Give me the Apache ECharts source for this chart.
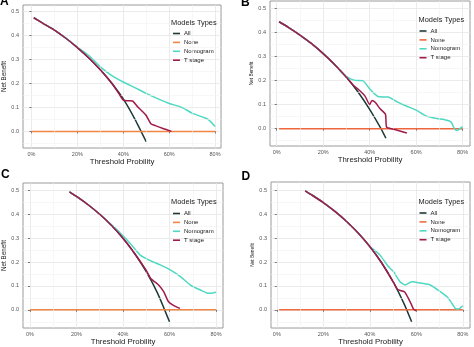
<!DOCTYPE html>
<html><head><meta charset="utf-8">
<script src="https://cdn.jsdelivr.net/npm/echarts@6/dist/echarts.min.js"></script>
<style>html,body{margin:0;padding:0;background:#fff}#c{width:474px;height:347px}</style>
</head><body><div id="c"></div>
<script>
// ---------- data ----------
const seriesNames = ['All', 'None', 'Nomogram', 'T stage'];
const panelLetters = ['A', 'B', 'C', 'D'];
const legendTitle = 'Models Types';
const xAxisName = 'Threshold Probility';
const yAxisName = 'Net Benefit';
const yTicks = [0.0, 0.1, 0.2, 0.3, 0.4, 0.5];
const xTicks = [0, 0.2, 0.4, 0.6, 0.8];

// Panel A
const A_all_x = [0.01, 0.05, 0.10, 0.15, 0.20, 0.25, 0.30, 0.35, 0.40, 0.45, 0.50];
const A_all_y = [0.472, 0.449, 0.421, 0.387, 0.348, 0.305, 0.256, 0.200, 0.135, 0.052, -0.043];
const A_none_x = [0.0, 0.8];
const A_none_y = [0, 0];
const A_nom_x = [0.01, 0.05, 0.10, 0.15, 0.20, 0.25, 0.30, 0.35, 0.40, 0.45, 0.50, 0.55, 0.60, 0.65, 0.70, 0.75, 0.77, 0.80];
const A_nom_y = [0.472, 0.449, 0.421, 0.387, 0.350, 0.315, 0.268, 0.232, 0.205, 0.182, 0.158, 0.136, 0.116, 0.102, 0.076, 0.058, 0.050, 0.020];
const A_ts_x = [0.01, 0.05, 0.10, 0.15, 0.20, 0.25, 0.30, 0.35, 0.38, 0.40, 0.42, 0.44, 0.46, 0.48, 0.50, 0.52, 0.54, 0.57, 0.61];
const A_ts_y = [0.472, 0.449, 0.421, 0.387, 0.348, 0.305, 0.256, 0.200, 0.158, 0.130, 0.127, 0.126, 0.105, 0.086, 0.066, 0.032, 0.024, 0.013, 0.0];

// Panel B
const B_all_x = [0.01, 0.05, 0.10, 0.15, 0.20, 0.25, 0.30, 0.35, 0.40, 0.45, 0.47];
const B_all_y = [0.443, 0.420, 0.388, 0.352, 0.311, 0.265, 0.213, 0.152, 0.080, -0.002, -0.040];
const B_none_x = [0.01, 0.8];
const B_none_y = [0, 0];
const B_nom_x = [0.01, 0.05, 0.10, 0.15, 0.20, 0.25, 0.28, 0.30, 0.32, 0.34, 0.37, 0.40, 0.42, 0.44, 0.48, 0.52, 0.56, 0.60, 0.645, 0.69, 0.72, 0.75, 0.765, 0.775, 0.80];
const B_nom_y = [0.443, 0.420, 0.388, 0.352, 0.311, 0.265, 0.232, 0.217, 0.205, 0.200, 0.199, 0.165, 0.145, 0.132, 0.131, 0.110, 0.093, 0.077, 0.052, 0.042, 0.038, 0.028, 0.000, -0.008, 0.008];
const B_ts_x = [0.01, 0.05, 0.10, 0.15, 0.20, 0.25, 0.30, 0.33, 0.36, 0.38, 0.40, 0.41, 0.425, 0.445, 0.468, 0.473, 0.50, 0.53, 0.56];
const B_ts_y = [0.443, 0.420, 0.388, 0.352, 0.311, 0.265, 0.213, 0.180, 0.155, 0.135, 0.100, 0.117, 0.108, 0.082, 0.060, 0.006, -0.002, -0.010, -0.018];

// Panel C
const C_all_x = [0.17, 0.20, 0.25, 0.30, 0.35, 0.40, 0.45, 0.50, 0.55, 0.60];
const C_all_y = [0.494, 0.475, 0.440, 0.400, 0.354, 0.300, 0.236, 0.160, 0.067, -0.050];
const C_none_x = [0.0, 0.8];
const C_none_y = [0, 0];
const C_nom_x = [0.17, 0.20, 0.25, 0.30, 0.345, 0.388, 0.431, 0.474, 0.517, 0.56, 0.603, 0.647, 0.69, 0.733, 0.769, 0.80];
const C_nom_y = [0.494, 0.475, 0.440, 0.400, 0.361, 0.322, 0.278, 0.229, 0.206, 0.188, 0.167, 0.139, 0.104, 0.083, 0.069, 0.074];
const C_ts_x = [0.17, 0.20, 0.25, 0.30, 0.35, 0.40, 0.45, 0.50, 0.52, 0.54, 0.555, 0.575, 0.595, 0.615, 0.645];
const C_ts_y = [0.494, 0.475, 0.440, 0.400, 0.354, 0.300, 0.236, 0.165, 0.130, 0.115, 0.102, 0.076, 0.035, 0.020, 0.006];

// Panel D
const D_all_x = [0.122, 0.15, 0.20, 0.25, 0.30, 0.35, 0.40, 0.45, 0.50, 0.55, 0.58];
const D_all_y = [0.498, 0.481, 0.449, 0.412, 0.370, 0.322, 0.265, 0.198, 0.118, 0.020, -0.050];
const D_none_x = [0.01, 0.8];
const D_none_y = [0, 0];
const D_nom_x = [0.122, 0.15, 0.20, 0.25, 0.30, 0.35, 0.40, 0.42, 0.444, 0.48, 0.502, 0.53, 0.552, 0.58, 0.624, 0.66, 0.703, 0.738, 0.767, 0.781, 0.80];
const D_nom_y = [0.498, 0.481, 0.449, 0.412, 0.370, 0.322, 0.265, 0.250, 0.229, 0.181, 0.160, 0.118, 0.104, 0.118, 0.111, 0.104, 0.076, 0.049, 0.007, 0.003, 0.017];
const D_ts_x = [0.122, 0.15, 0.20, 0.25, 0.30, 0.35, 0.40, 0.45, 0.50, 0.52, 0.535, 0.55, 0.565, 0.58, 0.588, 0.60];
const D_ts_y = [0.498, 0.481, 0.449, 0.412, 0.370, 0.322, 0.265, 0.198, 0.118, 0.085, 0.080, 0.075, 0.050, 0.020, 0.003, -0.004];

// ---------- layout / style ----------
const FONT = '"Liberation Sans", Arial, sans-serif';
const colAll = '#1d3a38', colNom = '#4fd8c2', colTs = '#a01a4c';
const panels = [
  {g:{left:23, top:5, width:198, height:143}, xr:[-0.037,0.826], yr:[-0.069,0.525], none:'#f08545',
   d:[[A_all_x,A_all_y],[A_none_x,A_none_y],[A_nom_x,A_nom_y],[A_ts_x,A_ts_y]],
   letter:{left:0,top:-4}, lt:{left:171,top:19.5}, lg:{left:173,top:30.5}, yNameGap:12, yNameSize:6.3},
  {g:{left:270, top:1, width:200, height:145}, xr:[-0.029,0.832], yr:[-0.072,0.529], none:'#f0663c',
   d:[[B_all_x,B_all_y],[B_none_x,B_none_y],[B_nom_x,B_nom_y],[B_ts_x,B_ts_y]],
   letter:{left:241,top:-3}, lt:{left:418.5,top:16.5}, lg:{left:419.5,top:28}, yNameGap:12, yNameSize:4.8},
  {g:{left:23, top:183, width:200, height:146}, xr:[-0.030,0.830], yr:[-0.076,0.531], none:'#f08545',
   d:[[C_all_x,C_all_y],[C_none_x,C_none_y],[C_nom_x,C_nom_y],[C_ts_x,C_ts_y]],
   letter:{left:1,top:169}, lt:{left:171,top:198.5}, lg:{left:173,top:210.5}, yNameGap:12, yNameSize:6.3},
  {g:{left:271, top:182, width:199, height:147}, xr:[-0.025,0.831], yr:[-0.076,0.535], none:'#f06a40',
   d:[[D_all_x,D_all_y],[D_none_x,D_none_y],[D_nom_x,D_nom_y],[D_ts_x,D_ts_y]],
   letter:{left:241.5,top:171}, lt:{left:418.5,top:198.5}, lg:{left:419.5,top:210}, yNameGap:12, yNameSize:4.8}
];

const zip = (xs, ys) => xs.map((x, i) => [x, ys[i]]);
const grid = [], xAxis = [], yAxis = [], series = [], title = [], legend = [];
const minorY = [0.05, 0.15, 0.25, 0.35, 0.45, -0.05];
const minorX = [0.1, 0.3, 0.5, 0.7];

panels.forEach((p, i) => {
  grid.push(Object.assign({show:true, borderColor:'#9a9a9a', borderWidth:1, backgroundColor:'#fff'}, p.g));
  xAxis.push({type:'value', gridIndex:i, min:p.xr[0], max:p.xr[1],
    axisLine:{show:false},
    axisTick:{show:true, length:2, customValues:xTicks, lineStyle:{color:'#555', width:0.8}},
    axisLabel:{customValues:xTicks, formatter:v => Math.round(v*100)+'%', fontSize:5.5, color:'#555', margin:3, fontFamily:FONT},
    splitLine:{show:true, lineStyle:{color:'#e6e6e6', width:0.8}},
    name:xAxisName, nameLocation:'middle', nameGap:10,
    nameTextStyle:{fontSize:7.8, color:'#1a1a1a', fontFamily:FONT}});
  yAxis.push({type:'value', gridIndex:i, min:p.yr[0], max:p.yr[1],
    axisLine:{show:false},
    axisTick:{show:true, length:2, customValues:yTicks, lineStyle:{color:'#555', width:0.8}},
    axisLabel:{customValues:yTicks, formatter:v => v.toFixed(1), fontSize:5.5, color:'#555', margin:4, fontFamily:FONT},
    splitLine:{show:true, lineStyle:{color:'#e6e6e6', width:0.8}},
    name:yAxisName, nameLocation:'middle', nameGap:p.yNameGap,
    nameTextStyle:{fontSize:p.yNameSize, color:'#1a1a1a', fontFamily:FONT}});
  // minor grid lines
  series.push({type:'line', xAxisIndex:i, yAxisIndex:i, data:[[0,0]], showSymbol:false, silent:true,
    lineStyle:{opacity:0}, z:1,
    markLine:{silent:true, symbol:'none', label:{show:false}, animation:false,
      lineStyle:{color:'#f2f2f2', width:0.6, type:'solid'},
      data:[...minorY.map(v => ({yAxis:v})), ...minorX.map(v => ({xAxis:v}))]}});
  const cols = [colAll, p.none, colNom, colTs];
  p.d.forEach((xy, k) => {
    series.push({name:seriesNames[k], type:'line', xAxisIndex:i, yAxisIndex:i,
      data:zip(xy[0], xy[1]), showSymbol:false, smooth:0.2, animation:false, z:2+k,
      lineStyle:{color:cols[k], width:1.5}, itemStyle:{color:cols[k]}});
  });
  title.push({text:panelLetters[i], left:p.letter.left, top:p.letter.top, padding:0,
    textStyle:{fontSize:12, fontWeight:'bold', color:'#000', fontFamily:FONT}});
  title.push({text:legendTitle, left:p.lt.left, top:p.lt.top, padding:0,
    textStyle:{fontSize:7.4, fontWeight:'normal', color:'#1a1a1a', fontFamily:FONT}});
  legend.push({orient:'vertical', left:p.lg.left, top:p.lg.top, selectedMode:false,
    icon:'rect', itemWidth:7, itemHeight:1.6, itemGap:2.9, padding:0,
    textStyle:{fontSize:6, color:'#1a1a1a', fontFamily:FONT, padding:[0,0,0,-1]},
    data:seriesNames.map((n, k) => ({name:n, itemStyle:{color:cols[k]}}))});
});

const chart = echarts.init(document.getElementById('c'), null, {renderer:'canvas'});
chart.setOption({animation:false, backgroundColor:'#fff', grid, xAxis, yAxis, series, title, legend});
</script>
</body></html>
